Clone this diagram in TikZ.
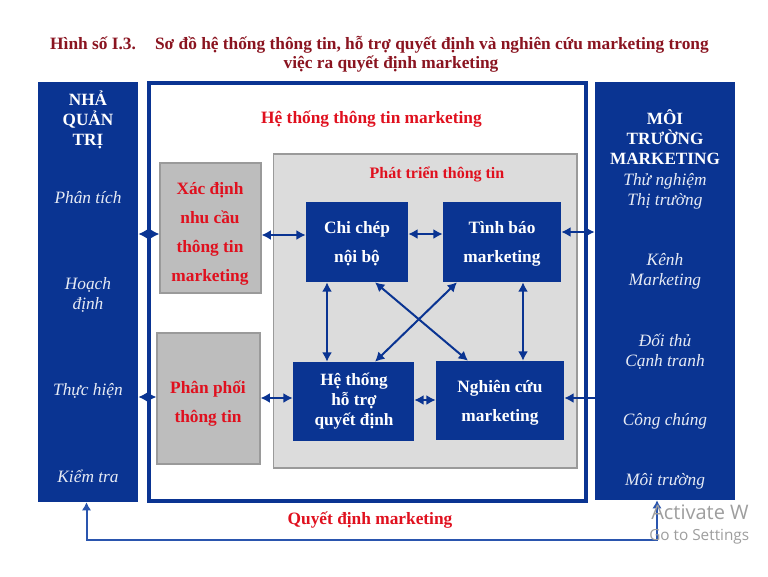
\documentclass[tikz,border=0pt]{standalone}
\usepackage{fontspec}
\setmainfont{Liberation Serif}
\newfontfamily\wmfont{Open Sans}
\usetikzlibrary{arrows.meta,fit}
\definecolor{navy}{HTML}{0A3492}
\definecolor{titlered}{HTML}{8A1420}
\definecolor{brightred}{HTML}{E0101E}
\definecolor{midgrey}{HTML}{BDBDBD}
\definecolor{lightgrey}{HTML}{DCDCDC}
\definecolor{edgegrey}{HTML}{9A9A9A}
\definecolor{loopblue}{HTML}{2A55AE}
\tikzset{
  navybox/.style={fill=navy,draw=none,inner sep=0pt},
  greybox/.style={fill=midgrey,draw=edgegrey,line width=0.8pt,inner sep=0pt},
  biggrey/.style={fill=lightgrey,draw=edgegrey,line width=0.8pt,inner sep=0pt},
  framebox/.style={draw=navy,line width=2.6pt,inner sep=0pt},
  titletext/.style={font=\bfseries\fontsize{13}{14.3}\selectfont,text=titlered,align=center,inner sep=0pt},
  redtext/.style={font=\bfseries\fontsize{13}{21.7}\selectfont,text=brightred,align=center,inner sep=0pt},
  whitehead/.style={font=\bfseries\fontsize{12.9}{15}\selectfont,text=white,align=center,inner sep=0pt},
  whitebody/.style={font=\bfseries\fontsize{13}{21.7}\selectfont,text=white,align=center,inner sep=0pt},
  itext/.style={font=\itshape\fontsize{13}{15}\selectfont,text=white!90!navy,align=center,inner sep=0pt},
  dbl/.style={draw=navy,line width=1.5pt,{Latex[length=7pt,width=7.5pt]}-{Latex[length=7pt,width=7.5pt]}},
  sgl/.style={draw=navy,line width=1.5pt,-{Latex[length=7pt,width=7.5pt]}},
  loopline/.style={draw=loopblue,line width=1.5pt,{Latex[length=6pt,width=7pt]}-{Latex[length=6pt,width=7pt]}},
  watermark/.style={text=black!38,anchor=west,inner sep=0pt}
}
\begin{document}
\begin{tikzpicture}[x=0.75pt,y=-0.75pt]
\useasboundingbox[fill=white] (0,0) rectangle (768,576);

\node[titletext] (title1) at (379.5,45) {Hình số I.3.\hspace{1.1em}Sơ đồ hệ thống thông tin, hỗ trợ quyết định và nghiên cứu marketing trong};
\node[titletext] (title2) at (391,64) {việc ra quyết định marketing};

\node[navybox,fit={(38,82)(138,502)}] (mgr) {};
\node[framebox,fit={(149,83)(586,501)}] (frame) {};
\node[navybox,fit={(595,82)(735,500)}] (env) {};
\node[greybox,fit={(160,163)(261,293)}] (need) {};
\node[greybox,fit={(157,333)(260,464)}] (dist) {};
\node[biggrey,fit={(273.5,154)(577,468)}] (dev) {};
\node[navybox,fit={(306,202)(408,282)}] (rec) {};
\node[navybox,fit={(443,202)(561,282)}] (intel) {};
\node[navybox,fit={(293,362)(414,441)}] (dss) {};
\node[navybox,fit={(436,361)(564,440)}] (res) {};

\node[whitehead] (mgrT) at (88,120) {NHẢ\\QUẢN\\TRỊ};
\node[itext] (m1) at (88,198) {Phân tích};
\node[itext] (m2) at (88,295) {Hoạch\\định};
\node[itext] (m3) at (88,391) {Thực hiện};
\node[itext] (m4) at (88,476) {Kiểm tra};

\node[whitehead] (envT) at (665,137) {MÔI\\TRƯỜNG\\MARKETING};
\node[itext] (e1) at (665,191) {Thử nghiệm\\Thị trường};
\node[itext] (e2) at (665,271) {Kênh\\Marketing};
\node[itext] (e3) at (665,352) {Đối thủ\\Cạnh tranh};
\node[itext] (e4) at (665,421) {Công chúng};
\node[itext] (e5) at (665,481) {Môi trường};

\node[redtext] (sysT) at (371.5,119) {Hệ thống thông tin marketing};
\node[redtext,font=\bfseries\fontsize{12}{14}\selectfont] (devT) at (437,174) {Phát triển thông tin};
\node[redtext] (needT) at (210,233.5) {Xác định\\nhu cầu\\thông tin\\marketing};
\node[redtext] (distT) at (208,403.5) {Phân phối\\thông tin};
\node[whitebody] (recT) at (357,243.5) {Chi chép\\nội bộ};
\node[whitebody] (intelT) at (502,243.5) {Tình báo\\marketing};
\node[whitehead] (dssT) at (354,401) {Hệ thống\\hỗ trợ\\quyết định};
\node[whitebody] (resT) at (500,403) {Nghiên cứu\\marketing};
\node[redtext] (decT) at (370,520) {Quyết định marketing};

\draw[dbl] (mgr.east |- 0,234) -- (need.west |- 0,234);
\draw[dbl] (mgr.east |- 0,397) -- (dist.west |- 0,397);
\draw[dbl] (need.east |- 0,235) -- (rec.west |- 0,235);
\draw[dbl,line width=2pt] (dist.east |- 0,398) -- (dss.west |- 0,398);
\draw[dbl] (rec.east |- 0,234) -- (intel.west |- 0,234);
\draw[dbl] (intel.east |- 0,232) -- (env.west |- 0,232);
\draw[dbl] (rec.south -| 327,0) -- (dss.north -| 327,0);
\draw[dbl] (intel.south -| 523,0) -- (res.north -| 523,0);
\draw[dbl,line width=2pt] (dss.east |- 0,400) -- (res.west |- 0,400);
\draw[sgl] (env.west |- 0,398) -- (res.east |- 0,398);
\draw[dbl] (rec.south -| 375,0) -- (res.north -| 468,0);
\draw[dbl] (intel.south -| 457,0) -- (dss.north -| 375,0);
\draw[loopline] (mgr.south -| 86.5,0) -- (86.5,540) -- (657,540) -- (env.south -| 657,0);

\node[watermark,font=\wmfont\fontsize{15}{17}\selectfont] (wm1) at (651,512) {Activate W};
\node[watermark,font=\wmfont\fontsize{11.5}{13}\selectfont] (wm2) at (649,537) {Go to Settings};
\end{tikzpicture}
\end{document}
